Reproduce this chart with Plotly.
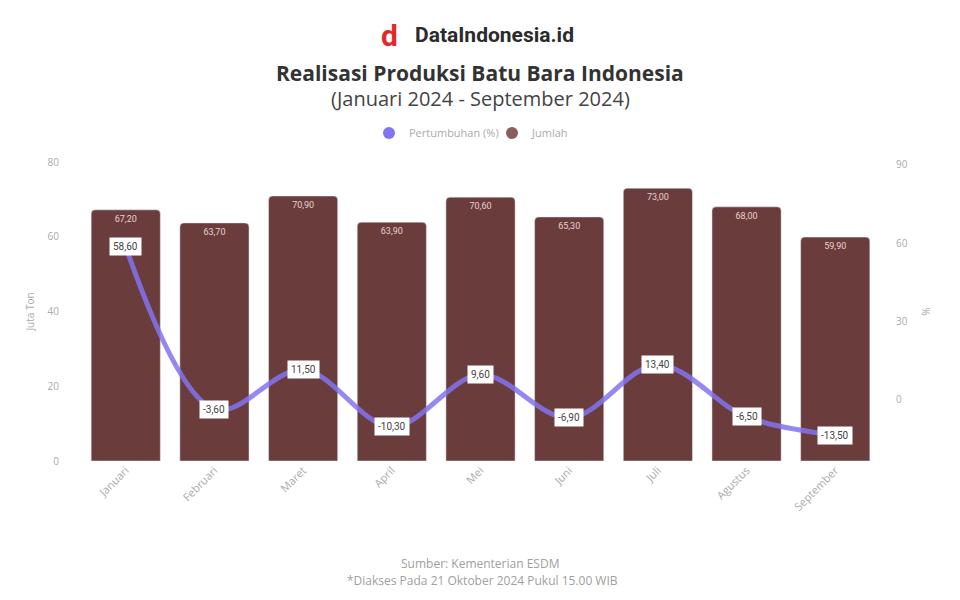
import plotly.graph_objects as go

months = ["Januari", "Februari", "Maret", "April", "Mei", "Juni", "Juli", "Agustus", "September"]
produksi = [67.2, 63.7, 70.9, 63.9, 70.6, 65.3, 73.0, 68.0, 59.9]
pertumbuhan = [58.6, -3.6, 11.5, -10.3, 9.6, -6.9, 13.4, -6.5, -13.5]

BAR = "#6b3c3c"
LINE = "#8374f2"
FONT = "Roboto"
TXT = "Open Sans"

# page offset (body margin) compensation: reference px -> figure px
OFF = 8
PL, PR, PT, PB = 78 - OFF, 883 - OFF, 162 - OFF, 461 - OFF


def px(xr):
    return (xr - OFF - PL) / (PR - PL)


def py(yr):
    return (PB - (yr - OFF)) / (PB - PT)


fig = go.Figure()
fig.add_trace(go.Bar(
    x=months, y=produksi, name="Jumlah",
    marker=dict(color=BAR, cornerradius=4),
    text=produksi, texttemplate="%{y:.2f}", textposition="inside",
    insidetextanchor="end", textfont=dict(color="#e6d2d2", size=9, family=FONT),
    yaxis="y", showlegend=False,
))
fig.add_trace(go.Scatter(
    x=months, y=pertumbuhan, name="Pertumbuhan (%)",
    mode="lines+markers",
    line=dict(color=LINE, width=5, shape="spline", smoothing=1),
    marker=dict(color=LINE, size=12),
    opacity=0.85,
    yaxis="y2", showlegend=False,
))
# legend entries (circle dots as in the reference)
fig.add_trace(go.Scatter(x=[None], y=[None], mode="markers", name="Pertumbuhan (%)",
                         marker=dict(color=LINE, size=11)))
fig.add_trace(go.Scatter(x=[None], y=[None], mode="markers", name="Jumlah",
                         marker=dict(color="#8a5c5c", size=11)))

for m, v in zip(months, pertumbuhan):
    fig.add_annotation(
        x=m, y=v, xref="x", yref="y2", text=f"{v:.2f}".replace(".", ","),
        showarrow=False, bgcolor="#ffffff", borderpad=3,
        font=dict(size=10, color="#444", family=FONT),
    )

# Header
fig.add_annotation(
    xref="paper", yref="paper", xanchor="center", yanchor="middle",
    x=px(389), y=py(35),
    text="<b>d</b>", showarrow=False,
    font=dict(size=30, color="#e02a2a", family="Roboto"),
)
fig.add_annotation(
    xref="paper", yref="paper", xanchor="left", yanchor="middle",
    x=px(413), y=py(35),
    text="<b>DataIndonesia.id</b>", showarrow=False,
    font=dict(size=21, color="#2b2b2b", family="Roboto"),
)
fig.add_annotation(
    xref="paper", yref="paper", xanchor="center", yanchor="middle",
    x=px(480), y=py(73),
    text="<b>Realisasi Produksi Batu Bara Indonesia</b>", showarrow=False,
    font=dict(size=21, color="#333333", family=TXT),
)
fig.add_annotation(
    xref="paper", yref="paper", xanchor="center", yanchor="middle",
    x=px(480), y=py(99),
    text="(Januari 2024 - September 2024)", showarrow=False,
    font=dict(size=20, color="#444444", family=TXT),
)
# Footer
fig.add_annotation(
    xref="paper", yref="paper", xanchor="center", yanchor="middle",
    x=px(480), y=py(563),
    text="Sumber: Kementerian ESDM", showarrow=False,
    font=dict(size=12, color="#a0a0a0", family=TXT),
)
fig.add_annotation(
    xref="paper", yref="paper", xanchor="center", yanchor="middle",
    x=px(482), y=py(580),
    text="*Diakses Pada 21 Oktober 2024 Pukul 15.00 WIB", showarrow=False,
    font=dict(size=12, color="#a0a0a0", family=TXT),
)

fig.update_layout(
    width=960, height=600,
    margin=dict(l=PL, r=960 - PR, t=PT, b=600 - PB),
    paper_bgcolor="white", plot_bgcolor="white",
    separators=",.",
    bargap=0.22,
    showlegend=True,
    legend=dict(orientation="h", xanchor="center", yanchor="middle",
                x=px(492), y=py(133), entrywidth=78,
                font=dict(size=11, color="#aaaaaa", family=TXT),
                itemsizing="constant"),
    font=dict(family=TXT, color="#aaaaaa", size=10),
    xaxis=dict(tickangle=-45, showgrid=False, zeroline=False, showline=False,
               tickfont=dict(size=11, color="#aaaaaa", family=TXT)),
    yaxis=dict(range=[0, 80], dtick=20, showgrid=False, zeroline=False,
               ticklabelstandoff=18,
               title=dict(text="Juta Ton", font=dict(size=10, color="#aaaaaa"), standoff=11),
               tickfont=dict(size=10, color="#aaaaaa")),
    yaxis2=dict(range=[-23.4, 91.1], dtick=30, overlaying="y", side="right",
                showgrid=False, zeroline=False, ticklabelstandoff=12,
                title=dict(text="%", font=dict(size=10, color="#aaaaaa"), standoff=16),
                tickfont=dict(size=10, color="#aaaaaa")),
)

fig.write_html("out.html")
